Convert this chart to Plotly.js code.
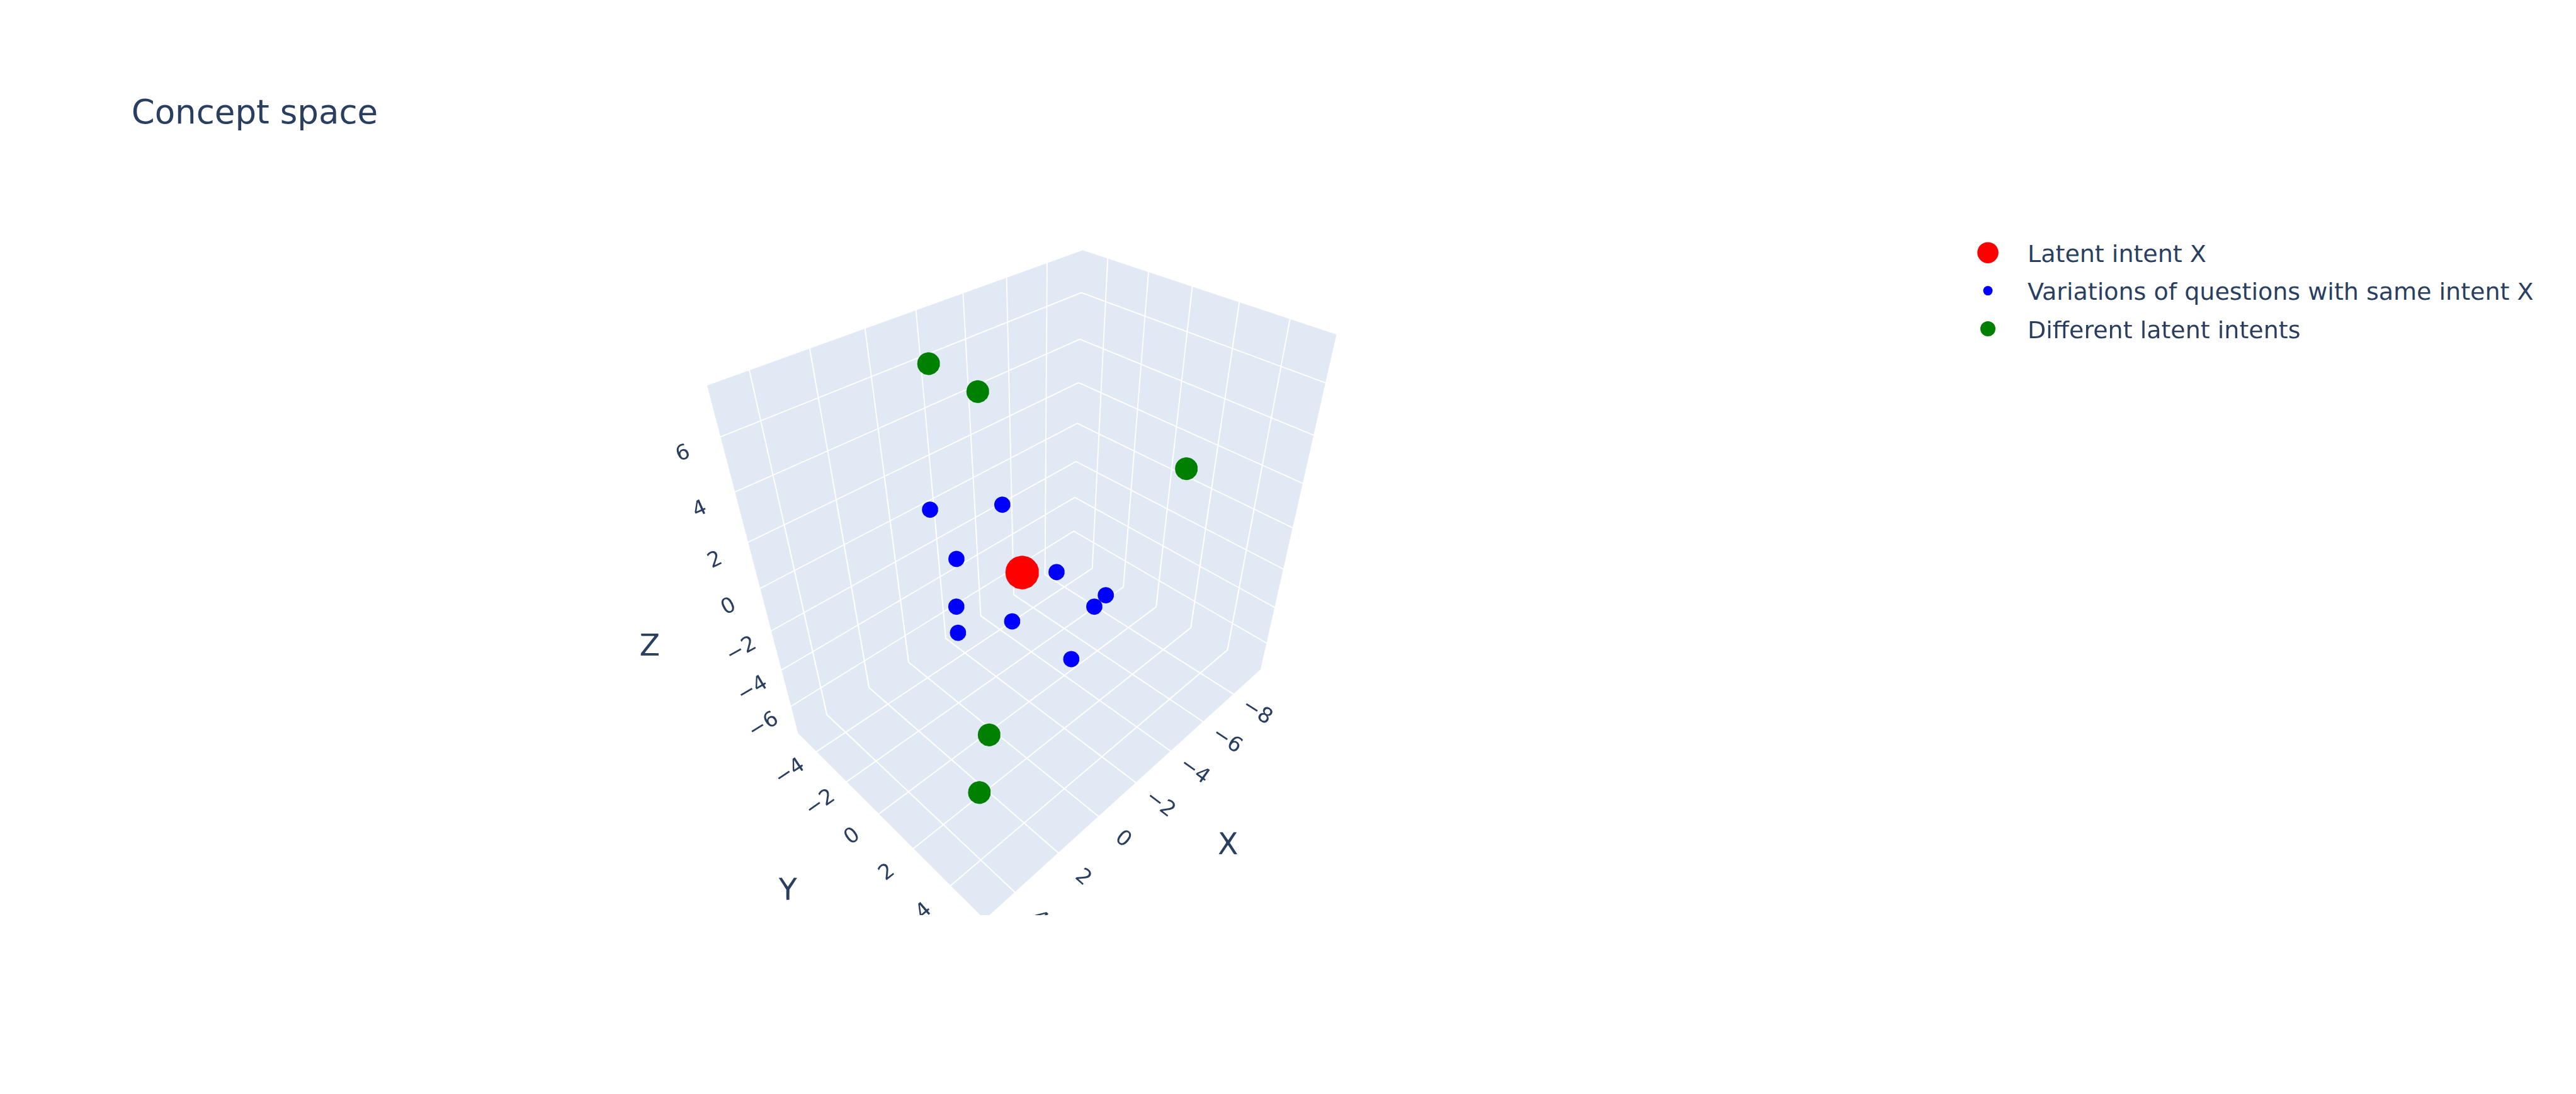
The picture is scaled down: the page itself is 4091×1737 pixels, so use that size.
<!DOCTYPE html>
<html><head><meta charset="utf-8"><script src="https://cdn.plot.ly/plotly-3.0.1.min.js"></script>
<style>html,body{margin:0;padding:0;background:#fff;overflow:hidden}#c{width:4091px;height:1737px}</style></head><body><div id="c"></div>
<script>
const redX=[-1.66],redY=[0.05],redZ=[-0.41];
const blueX=[-0.38,-2.20,-0.28,-2.50,0.44,0.79,-0.69,-3.34,-2.89,-1.55];
const blueY=[-3.26,-1.51,-1.82,0.92,-1.07,-0.62,0.57,2.53,2.42,2.66];
const blueZ=[1.35,1.49,-0.04,-0.41,-1.38,-2.12,-1.80,-1.06,-1.38,-2.86];
const greenX=[-1.61,-3.30,-7.18,1.57,2.67];
const greenY=[-4.32,-3.91,2.58,1.77,2.43];
const greenZ=[6.24,4.68,2.51,-4.99,-6.61];
const titleText='Concept space';
const names=['Latent intent X','Variations of questions with same intent X','Different latent intents'];
const xRange=[-9.9,5.3],yRange=[-5.3,5.7],zRange=[-7.6,7.7];
const legendScale=[2.1,1.0,1.5];
const ax=(t,r)=>({title:{text:t,font:{size:48}},tickfont:{size:20},range:r,backgroundcolor:'#E1E9F4',gridcolor:'white',showbackground:true,zerolinecolor:'white',gridwidth:5,zerolinewidth:5,linecolor:'white',ticks:'',dtick:2});
Plotly.newPlot('c',[
{type:'scatter3d',mode:'markers',name:names[0],x:redX,y:redY,z:redZ,marker:{color:'red',size:31}},
{type:'scatter3d',mode:'markers',name:names[1],x:blueX,y:blueY,z:blueZ,marker:{color:'blue',size:15}},
{type:'scatter3d',mode:'markers',name:names[2],x:greenX,y:greenY,z:greenZ,marker:{color:'green',size:21}}
],{width:4091,height:1737,title:{text:titleText,font:{size:53,color:'#2a3f5f'},x:0.051,xanchor:'left',y:0.898,yanchor:'middle'},
font:{family:'"DejaVu Sans",verdana,arial,sans-serif',color:'#2a3f5f',size:38},
paper_bgcolor:'white',margin:{l:286,r:1080,t:311,b:284},showlegend:true,
legend:{itemsizing:'trace',font:{size:38},itemwidth:116,xref:'container',yref:'container',x:0.7563,y:0.787,xanchor:'left',yanchor:'top'},
scene:{xaxis:ax('X',xRange),yaxis:ax('Y',yRange),zaxis:ax('Z',zRange),aspectmode:'manual',aspectratio:{x:1.115,y:0.77,z:1.066},camera:{eye:{x:1.205,y:1.205,z:1.35}}}
},{displayModeBar:false,responsive:false}).then(()=>{
  const gd=document.getElementById('c');
  setTimeout(()=>{
    const sc=gd._fullLayout.scene._scene;
    sc.axesOptions.tickPad=[45,45,45];sc.axesOptions.labelPad=[100,100,100];
    sc.glplot.axes.update({tickPad:[45,45,45],labelPad:[100,100,100]});
    Plotly.restyle(gd,{opacity:1},[0,1,2]).then(()=>{
      document.querySelectorAll('.legend .scrollbox').forEach(e=>e.removeAttribute('clip-path'));
      document.querySelectorAll('.legend .traces').forEach((g,i)=>{
        const m=/translate\(([-\d.]+),\s*([-\d.]+)\)/.exec(g.getAttribute('transform'));
        g.setAttribute('transform','translate('+m[1]+','+(parseFloat(m[2])+i*8)+')');
        g.querySelectorAll('.legendpoints path').forEach(p=>{p.setAttribute('transform',(p.getAttribute('transform')||'')+' scale('+legendScale[i]+')');});
      });
    });
  },300);
});
</script></body></html>
